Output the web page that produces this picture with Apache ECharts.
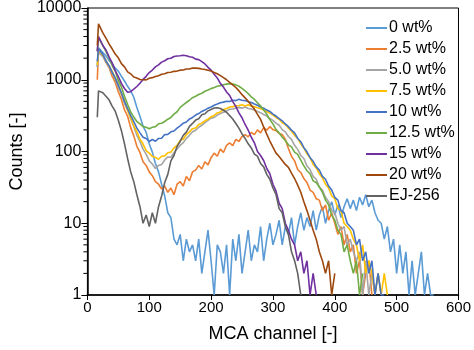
<!DOCTYPE html>
<html>
<head>
<meta charset="utf-8">
<script src="https://cdn.jsdelivr.net/npm/echarts@6/dist/echarts.min.js"></script>
<style>
  html, body { margin: 0; padding: 0; background: #fff; }
  #chart { width: 474px; height: 350px; }
</style>
</head>
<body>
<div id="chart"></div>
<script>
const channels = [16, 18,
  25, 30, 35, 40, 45, 50, 55, 60, 65, 70,
  75, 80, 85, 90, 95, 100, 105, 110, 115, 120,
  125, 130, 135, 140, 145, 150, 155, 160, 165, 170,
  175, 180, 185, 190, 195, 200, 205, 210, 215, 220,
  225, 230, 235, 240, 245, 250, 255, 260, 265, 270,
  275, 280, 285, 290, 295, 300, 305, 310, 315, 320,
  325, 330, 335, 340, 345, 350, 355, 360, 365, 370,
  375, 380, 385, 390, 395, 400, 405, 410, 415, 420,
  425, 430, 435, 440, 445, 450, 455, 460, 465, 470,
  475, 480, 485, 490, 495, 500, 505, 510, 515, 520,
  525, 530, 535, 540, 545, 550, 555, 560]

const wt0 = [1500, 2800,
  2400, 2150, 1850, 1680, 1450, 1320, 1120, 960, 810, 700,
  570, 410, 310, 225, 185, 128, 98, 68, 52, 35,
  24, 14, 12, 6, 5, 7, 3, 6, 4, 5,
  3, 6, 2, 4, 8, 3, 1, 5, 4, 2,
  5, 1, 6, 3, 7, 2, 4, 8, 3, 5,
  4, 9, 3, 6, 10, 5, 7, 11, 5, 9,
  7, 12, 5, 9, 14, 8, 12, 9, 15, 8,
  13, 17, 10, 15, 20, 13, 18, 12, 17, 22,
  16, 21, 15, 23, 18, 25, 17, 21, 14, 11,
  10, 6, 9, 4, 6, 2, 5, 2, 4, 1,
  3, 1, 2, 4, 1, 2, 1, 1]
const wt25 = [1000, 2600,
  2200, 1750, 1480, 1120, 920, 680, 530, 380, 310, 215,
  165, 118, 97, 72, 64, 52, 46, 38, 35, 30,
  33, 27, 31, 25, 35, 38, 33, 45, 39, 52,
  55, 64, 57, 72, 65, 82, 95, 86, 108, 97,
  122, 132, 121, 148, 138, 162, 172, 160, 185, 172,
  200, 182, 215, 198, 222, 202, 195, 178, 172, 148,
  110, 86, 74, 56, 51, 42, 37, 29, 27, 22,
  21, 15, 18, 11, 14, 10, 7, 9, 5, 7,
  4, 5, 2, 3, 1, 2, 3, 1]
const wt50 = [1500, 2400,
  2100, 1780, 1520, 1240, 1010, 790, 630, 470, 375, 285,
  222, 168, 138, 108, 92, 74, 67, 58, 64, 66,
  76, 84, 83, 96, 108, 122, 133, 152, 168, 188,
  198, 218, 232, 252, 272, 292, 298, 322, 338, 352,
  368, 388, 392, 405, 412, 402, 418, 398, 392, 378,
  362, 348, 328, 312, 288, 272, 248, 232, 202, 188,
  162, 148, 122, 107, 88, 80, 63, 56, 45, 41,
  32, 29, 23, 20, 15, 14, 10, 8, 9, 5,
  6, 4, 3, 4, 1, 3, 1, 2, 1, 2,
  1]
const wt75 = [1600, 2600,
  2200, 1870, 1530, 1320, 1040, 860, 640, 510, 375, 295,
  228, 188, 148, 127, 103, 95, 85, 83, 78, 86,
  87, 96, 98, 112, 122, 143, 148, 172, 188, 208,
  212, 238, 248, 268, 282, 305, 318, 345, 356, 384,
  398, 418, 422, 435, 438, 448, 432, 447, 428, 422,
  408, 398, 378, 362, 342, 322, 298, 282, 252, 238,
  212, 192, 168, 152, 128, 112, 93, 82, 66, 59,
  49, 43, 35, 31, 24, 22, 16, 15, 10, 9,
  8, 6, 5, 3, 5, 2, 3, 2, 1, 2,
  1, 2, 1]
const wt10 = [1800, 2700,
  2250, 1830, 1570, 1280, 1060, 840, 660, 495, 395, 318,
  262, 212, 182, 158, 152, 138, 147, 139, 152, 153,
  172, 173, 188, 193, 212, 228, 248, 258, 283, 298,
  322, 338, 362, 378, 402, 418, 442, 458, 478, 488,
  502, 498, 518, 512, 535, 518, 512, 495, 482, 458,
  442, 418, 402, 378, 362, 332, 312, 288, 268, 242,
  222, 198, 182, 152, 137, 113, 99, 82, 73, 61,
  55, 45, 41, 33, 29, 23, 21, 15, 14, 10,
  9, 8, 5, 6, 3, 4, 2, 3, 1, 2,
  1, 1]
const wt125 = [2500, 3800,
  3000, 2480, 2020, 1580, 1320, 980, 790, 590, 455, 355,
  302, 262, 242, 222, 218, 208, 218, 222, 243, 248,
  262, 282, 298, 332, 358, 412, 448, 482, 518, 562,
  588, 622, 648, 692, 718, 752, 778, 812, 828, 852,
  868, 882, 872, 848, 812, 758, 702, 642, 578, 532,
  478, 432, 378, 332, 278, 242, 202, 182, 158, 142,
  124, 116, 98, 91, 76, 63, 54, 49, 39, 37,
  32, 27, 21, 18, 13, 11, 8, 7, 4, 5,
  3, 2, 3, 1, 2]
const wt15 = [2500, 4000,
  3000, 2600, 2080, 1720, 1340, 1110, 890, 755, 668, 682,
  738, 805, 895, 1010, 1115, 1260, 1365, 1510, 1615, 1760,
  1840, 1960, 1990, 2110, 2140, 2160, 2190, 2160, 2090, 2060,
  1940, 1910, 1790, 1660, 1490, 1360, 1190, 1060, 890, 790,
  675, 605, 495, 425, 345, 295, 238, 198, 158, 132,
  100, 88, 75, 58, 49, 35, 28, 19, 16, 10,
  8, 6, 5, 3, 4, 2, 3, 1, 2, 1]
const wt20 = [3000, 6000,
  4500, 3800, 3150, 2700, 2280, 2020, 1680, 1510, 1290, 1210,
  1090, 1060, 1010, 1000, 995, 1050, 1070, 1110, 1140, 1190,
  1210, 1260, 1270, 1310, 1320, 1360, 1370, 1410, 1410, 1460,
  1450, 1440, 1410, 1390, 1360, 1320, 1260, 1210, 1140, 1070,
  1000, 920, 850, 780, 700, 620, 560, 500, 440, 390,
  330, 280, 220, 175, 140, 115, 95, 85, 75, 66,
  60, 50, 42, 34, 27, 20, 15, 11, 8, 6,
  4, 3, 2, 3, 1, 2]
const ej256 = [300, 700,
  660, 590, 525, 430, 365, 272, 195, 128, 80, 52,
  38, 25, 17, 10, 13, 9, 14, 10, 17, 24,
  37, 48, 74, 88, 118, 138, 168, 186, 224, 246,
  274, 286, 324, 336, 368, 386, 404, 408, 398, 376,
  352, 316, 284, 246, 212, 176, 152, 128, 112, 92,
  86, 68, 61, 48, 41, 31, 25, 16, 14, 9,
  7, 4, 3, 2, 1]

const seriesNames = ['0 wt%', '2.5 wt%', '5.0 wt%', '7.5 wt%', '10 wt%', '12.5 wt%', '15 wt%', '20 wt%', 'EJ-256']
const seriesValues = [wt0, wt25, wt50, wt75, wt10, wt125, wt15, wt20, ej256]
const colors = ['#5b9bd5', '#ed7d31', '#a5a5a5', '#ffc000', '#4472c4', '#70ad47', '#7030a0', '#9e480e', '#636363']

// log minor ticks (Excel style, 2..9 in each decade)
const minorTicks = [2, 3, 4, 5, 6, 7, 8, 9,
  20, 30, 40, 50, 60, 70, 80, 90,
  200, 300, 400, 500, 600, 700, 800, 900,
  2000, 3000, 4000, 5000, 6000, 7000, 8000, 9000]

const chart = echarts.init(document.getElementById('chart'))

const series = seriesValues.map((vals, i) => ({
  name: seriesNames[i],
  type: 'line',
  symbol: 'none',
  color: colors[i],
  lineStyle: { width: 1.6, color: colors[i] },
  data: vals.map((v, j) => [channels[j], v]),
}))

series.push({
  name: 'minor',
  type: 'custom',
  silent: true,
  clip: false,
  data: minorTicks.map((v) => [0, v]),
  renderItem: function (params, api) {
    const p = api.coord([0, api.value(1)])
    return {
      type: 'line',
      shape: { x1: p[0] - 4, y1: p[1], x2: p[0], y2: p[1] },
      style: { stroke: '#000', lineWidth: 1 },
    }
  },
})

const option = {
  animation: false,
  textStyle: { fontFamily: 'Liberation Sans, Arial, sans-serif' },
  grid: {
    left: 72,
    right: 12,
    top: 6,
    bottom: 55,
    show: true,
    borderColor: '#000',
    borderWidth: 1,
  },
  legend: {
    data: seriesNames,
    orient: 'vertical',
    left: 361,
    top: 15,
    icon: 'rect',
    itemWidth: 21,
    itemHeight: 2,
    itemGap: 5,
    textStyle: { fontSize: 16, color: '#000', padding: [0, 0, 0, -3] },
  },
  xAxis: {
    type: 'value',
    min: 0,
    max: 600,
    interval: 100,
    name: 'MCA channel [-]',
    nameLocation: 'middle',
    nameGap: 30,
    nameTextStyle: { fontSize: 18, color: '#000' },
    axisLine: { show: true, lineStyle: { color: '#000', width: 1.5 } },
    axisTick: { show: true, inside: false, length: 5, lineStyle: { color: '#000' } },
    axisLabel: { fontSize: 15, color: '#000', margin: 5 },
    splitLine: { show: false },
  },
  yAxis: {
    type: 'log',
    logBase: 10,
    min: 1,
    max: 10000,
    name: 'Counts [-]',
    nameLocation: 'middle',
    nameGap: 56,
    nameTextStyle: { fontSize: 18, color: '#000' },
    axisLine: { show: true, lineStyle: { color: '#000', width: 1.5 } },
    axisTick: { show: true, inside: false, length: 6, lineStyle: { color: '#000' } },
    axisLabel: {
      fontSize: 16,
      color: '#000',
      margin: 6,
      formatter: (v) => String(Math.round(v)),
    },
    splitLine: { show: false },
  },
  series: series,
}

chart.setOption(option)
</script>
</body>
</html>
